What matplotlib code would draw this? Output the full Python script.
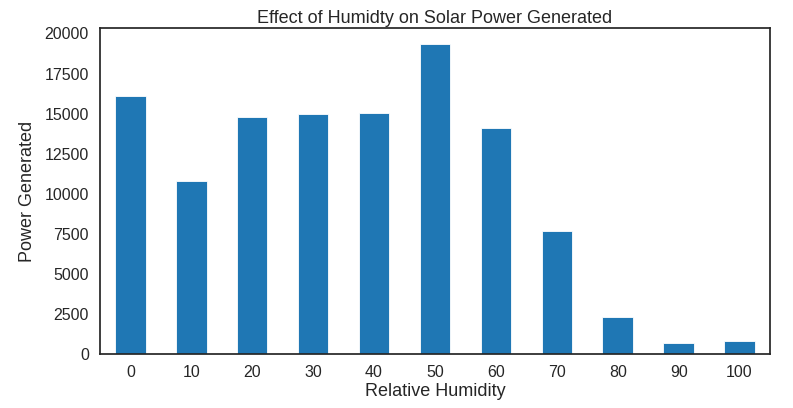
import matplotlib
matplotlib.use("Agg")
import matplotlib.pyplot as plt
import seaborn as sns

# humidity bins and the summed power
humidity = [0, 10, 20, 30, 40, 50, 60, 70, 80, 90, 100]
power = [16080, 10770, 14770, 14960, 15020, 19360, 14080, 7710, 2330, 710, 810]

sns.set_style("white")
plt.rcParams['font.family'] = ['Liberation Sans', 'DejaVu Sans']
plt.rcParams['axes.edgecolor'] = '.15'
plt.rcParams['axes.linewidth'] = 1.25

fig = plt.figure(figsize=(7.93, 4.08), dpi=100)
ax = fig.add_axes([0.126, 0.132, 0.845, 0.799])

pos = list(range(len(humidity)))
ax.bar(pos, power, width=0.5, color='#1f77b4', edgecolor='white', linewidth=0.6)
ax.set_xlim(-0.5, len(humidity) - 0.5)
ax.set_ylim(0, max(power) * 1.05)
ax.set_yticks([0, 2500, 5000, 7500, 10000, 12500, 15000, 17500, 20000])
ax.set_xticks(pos)
ax.set_xticklabels([str(h) for h in humidity])
ax.tick_params(axis='both', labelsize=11.5, colors='.15', length=0, pad=8)

ax.set_title('Effect of Humidty on Solar Power Generated', fontsize=13, color='.15', pad=4)
ax.set_xlabel('Relative Humidity', fontsize=13, color='.15', labelpad=2)
ax.set_ylabel('Power Generated', fontsize=13, color='.15', labelpad=6)

fig.savefig('out.png', dpi=100)
